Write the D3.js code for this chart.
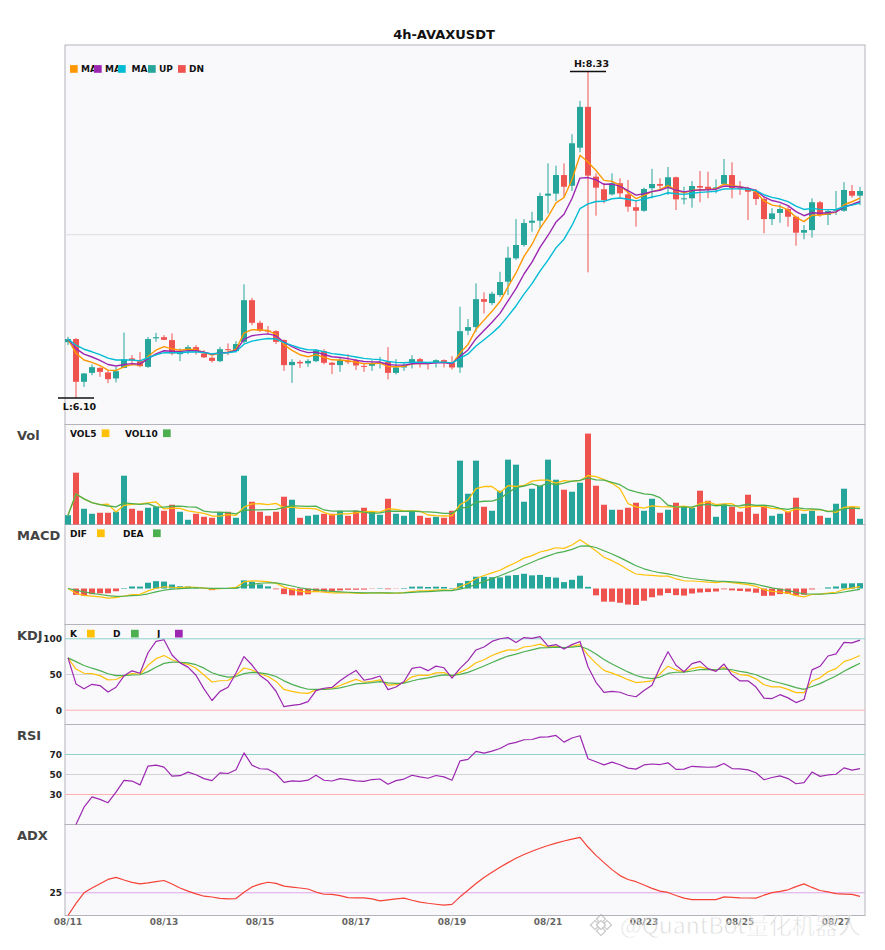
<!DOCTYPE html>
<html>
<head>
<meta charset="utf-8">
<script src="https://cdn.jsdelivr.net/npm/d3@7"></script>
<style>
    body { margin: 0; background: #fff; }
    svg text { font-family: "DejaVu Sans", sans-serif; }
</style>
</head>
<body>
<div class="container"></div>
<script>
// 4h candles, 08/11 00:00 onwards
var opens = [6.481, 6.502, 6.210, 6.271, 6.305, 6.274, 6.233, 6.305, 6.370, 6.351,
    6.312, 6.507, 6.515, 6.495, 6.399, 6.426, 6.447, 6.404, 6.374, 6.351,
    6.433, 6.420, 6.483, 6.768, 6.613, 6.560, 6.556, 6.495, 6.324, 6.346,
    6.336, 6.351, 6.420, 6.340, 6.324, 6.351, 6.358, 6.319, 6.319, 6.338,
    6.346, 6.271, 6.308, 6.340, 6.365, 6.340, 6.340, 6.358, 6.340, 6.308,
    6.559, 6.584, 6.775, 6.748, 6.803, 6.894, 7.054, 7.145, 7.297, 7.311,
    7.482, 7.496, 7.623, 7.550, 7.810, 8.089, 7.612, 7.526, 7.491, 7.567,
    7.491, 7.403, 7.379, 7.533, 7.562, 7.537, 7.608, 7.457, 7.464, 7.548,
    7.543, 7.528, 7.562, 7.623, 7.537, 7.533, 7.509, 7.459, 7.322, 7.364,
    7.391, 7.338, 7.229, 7.247, 7.437, 7.350, 7.379, 7.379, 7.514, 7.482];
var highs = [6.517, 6.509, 6.270, 6.329, 6.310, 6.290, 6.312, 6.547, 6.392, 6.413,
    6.517, 6.545, 6.529, 6.541, 6.438, 6.461, 6.461, 6.426, 6.385, 6.449,
    6.472, 6.488, 6.876, 6.784, 6.627, 6.591, 6.563, 6.500, 6.365, 6.358,
    6.365, 6.433, 6.433, 6.346, 6.374, 6.399, 6.367, 6.336, 6.358, 6.381,
    6.447, 6.365, 6.336, 6.392, 6.374, 6.342, 6.363, 6.363, 6.385, 6.723,
    6.639, 6.883, 6.821, 6.825, 6.962, 7.133, 7.322, 7.322, 7.372, 7.502,
    7.703, 7.687, 7.703, 7.902, 8.130, 8.330, 7.635, 7.567, 7.635, 7.601,
    7.589, 7.452, 7.537, 7.665, 7.601, 7.678, 7.612, 7.543, 7.582, 7.651,
    7.646, 7.594, 7.733, 7.710, 7.582, 7.543, 7.528, 7.475, 7.396, 7.423,
    7.407, 7.345, 7.281, 7.464, 7.446, 7.384, 7.514, 7.574, 7.555, 7.543];
var lows = [6.461, 6.100, 6.175, 6.255, 6.244, 6.201, 6.206, 6.303, 6.324, 6.310,
    6.305, 6.483, 6.495, 6.392, 6.351, 6.399, 6.397, 6.372, 6.342, 6.344,
    6.392, 6.411, 6.472, 6.597, 6.550, 6.536, 6.468, 6.285, 6.203, 6.305,
    6.312, 6.344, 6.329, 6.262, 6.278, 6.331, 6.290, 6.278, 6.285, 6.301,
    6.226, 6.260, 6.285, 6.301, 6.308, 6.294, 6.308, 6.308, 6.294, 6.271,
    6.529, 6.552, 6.677, 6.734, 6.791, 6.803, 7.042, 7.133, 7.236, 7.259,
    7.361, 7.446, 7.475, 7.514, 7.779, 6.958, 7.345, 7.430, 7.482, 7.468,
    7.372, 7.270, 7.372, 7.464, 7.514, 7.487, 7.384, 7.423, 7.400, 7.437,
    7.464, 7.498, 7.555, 7.464, 7.487, 7.316, 7.418, 7.225, 7.281, 7.297,
    7.270, 7.140, 7.184, 7.195, 7.338, 7.281, 7.350, 7.372, 7.468, 7.418];
var closes = [6.502, 6.210, 6.267, 6.310, 6.278, 6.228, 6.283, 6.363, 6.356, 6.317,
    6.502, 6.515, 6.497, 6.404, 6.408, 6.447, 6.420, 6.377, 6.353, 6.433,
    6.426, 6.468, 6.768, 6.613, 6.559, 6.553, 6.483, 6.324, 6.346, 6.336,
    6.353, 6.426, 6.340, 6.326, 6.358, 6.344, 6.322, 6.315, 6.336, 6.342,
    6.271, 6.308, 6.324, 6.365, 6.346, 6.331, 6.358, 6.344, 6.308, 6.556,
    6.584, 6.775, 6.757, 6.812, 6.892, 7.058, 7.145, 7.295, 7.311, 7.480,
    7.496, 7.623, 7.543, 7.840, 8.089, 7.619, 7.537, 7.452, 7.567, 7.498,
    7.407, 7.379, 7.528, 7.562, 7.550, 7.608, 7.457, 7.464, 7.548, 7.537,
    7.528, 7.539, 7.623, 7.533, 7.528, 7.509, 7.459, 7.322, 7.361, 7.391,
    7.338, 7.229, 7.247, 7.437, 7.350, 7.377, 7.391, 7.521, 7.482, 7.514];
// volume, thousands
var volumes = [93, 517, 157, 107, 117, 117, 127, 487, 157, 137,
    167, 177, 137, 197, 127, 47, 107, 77, 67, 117,
    127, 67, 487, 227, 127, 87, 127, 277, 247, 67,
    87, 97, 107, 107, 137, 87, 137, 167, 127, 97,
    257, 107, 87, 127, 87, 67, 77, 67, 137, 637,
    307, 637, 177, 137, 337, 647, 597, 227, 357, 387,
    647, 447, 347, 327, 417, 907, 387, 197, 147, 147,
    167, 217, 137, 257, 117, 147, 217, 177, 167, 337,
    237, 77, 207, 177, 127, 297, 107, 187, 87, 107,
    127, 267, 107, 137, 87, 67, 207, 357, 177, 57];
var tickLabels = ['08/11', '08/13', '08/15', '08/17', '08/19', '08/21', '08/23', '08/25', '08/27'];
var CANDLES_PER_TICK = 12;

var maSpans = [5, 8, 13];
var maColors = ['#ff9800', '#9c27b0', '#00bcd4'];
var MACD_FAST = 8, MACD_SLOW = 17, MACD_SIGNAL = 5;

var UP = '#26a69a', DN = '#ef5350';
var YELLOW = '#ffc107', GREEN = '#4caf50', PURPLE = '#9c27b0';

// ---- indicators, worked out from the candles above ----
function rollingMean(arr, n) {
    return arr.map(function (d, i) {
        return d3.mean(arr.slice(Math.max(0, i - n + 1), i + 1));
    });
}
function ewm(arr, alpha, adjust) {
    var out = [], num = 0, den = 0, prev = null;
    arr.forEach(function (v) {
        if (v == null) { out.push(null); return; }
        if (adjust) {
            num = num * (1 - alpha) + v;
            den = den * (1 - alpha) + 1;
            out.push(num / den);
        } else {
            prev = prev == null ? v : prev + alpha * (v - prev);
            out.push(prev);
        }
    });
    return out;
}
function ema(arr, span) { return ewm(arr, 2 / (span + 1), false); }

var maLines = maSpans.map(function (s) { return ema(closes, s); });
var vol5 = rollingMean(volumes, 5), vol10 = rollingMean(volumes, 10);

var emaFast = ema(closes, MACD_FAST), emaSlow = ema(closes, MACD_SLOW);
var dif = emaFast.map(function (d, i) { return d - emaSlow[i]; });
var dea = ema(dif, MACD_SIGNAL);
var hist = dif.map(function (d, i) { return 2 * (d - dea[i]); });

var rsv = closes.map(function (c, i) {
    var lo = d3.min(lows.slice(Math.max(0, i - 8), i + 1));
    var hi = d3.max(highs.slice(Math.max(0, i - 8), i + 1));
    return hi === lo ? 50 : (c - lo) / (hi - lo) * 100;
});
var kLine = ewm(rsv, 1 / 3, false);
var dLine = ewm(kLine, 1 / 3, false);
var jLine = kLine.map(function (k, i) { return 3 * k - 2 * dLine[i]; });

var gains = closes.map(function (c, i) { return i ? Math.max(c - closes[i - 1], 0) : null; });
var losses = closes.map(function (c, i) { return i ? Math.max(closes[i - 1] - c, 0) : null; });
var avgG = ewm(gains, 1 / 14, true), avgL = ewm(losses, 1 / 14, true);
var rsi = avgG.map(function (g, i) {
    if (g == null) return null;
    return g + avgL[i] === 0 ? 50 : 100 * g / (g + avgL[i]);
});

var tr = [], pdm = [], mdm = [];
closes.forEach(function (c, i) {
    if (i === 0) { tr.push(highs[0] - lows[0]); pdm.push(0); mdm.push(0); return; }
    var pc = closes[i - 1];
    tr.push(Math.max(highs[i] - lows[i], Math.abs(highs[i] - pc), Math.abs(lows[i] - pc)));
    var up = highs[i] - highs[i - 1], down = lows[i - 1] - lows[i];
    pdm.push(up > down && up > 0 ? up : 0);
    mdm.push(down > up && down > 0 ? down : 0);
});
var atr = ema(tr, 14), pdmS = ema(pdm, 14), mdmS = ema(mdm, 14);
var dx = atr.map(function (a, i) {
    var p = 100 * pdmS[i] / a, m = 100 * mdmS[i] / a;
    return p + m === 0 ? 0 : 100 * Math.abs(p - m) / (p + m);
});
var adx = ema(dx, 14);

// ---- layout ----
var W = 885, H = 950, LEFT = 65, RIGHT = 865;
var P = {
    main: [45, 424.5], vol: [424.5, 524.5], macd: [524.5, 624.5],
    kdj: [624.5, 724.5], rsi: [724.5, 824.5], adx: [824.5, 915.5]
};

var svg = d3.select('.container').append('svg')
    .attr('width', W).attr('height', H);

var n = closes.length;
var x = d3.scaleBand().domain(d3.range(n)).range([LEFT - 1, RIGHT - 1])
    .paddingInner(0.25).paddingOuter(0.125);
function cx(i) { return x(i) + x.bandwidth() / 2; }

svg.append('text')
    .attr('x', 444).attr('y', 39)
    .attr('text-anchor', 'middle')
    .style('font-size', '13px').style('font-weight', 'bold').attr('fill', '#111')
    .text('4h-AVAXUSDT');

Object.keys(P).forEach(function (k) {
    svg.append('rect')
        .attr('x', LEFT).attr('y', P[k][0])
        .attr('width', RIGHT - LEFT).attr('height', P[k][1] - P[k][0])
        .attr('fill', '#f9f9fc').attr('stroke', '#b4b4bc').attr('stroke-width', 1);
});

function panelLabel(name, top) {
    svg.append('text').attr('x', 17).attr('y', top + 15)
        .style('font-size', '13px').style('font-weight', 'bold').attr('fill', '#444')
        .text(name);
}
function legend(items, y) {
    // items: [text, color, textX, squareX, clipWidth]
    items.forEach(function (it, i) {
        var id = 'lg' + Math.round(y) + '_' + i;
        svg.append('clipPath').attr('id', id).append('rect')
            .attr('x', it[2]).attr('y', y - 12).attr('width', it[4]).attr('height', 16);
        svg.append('text').attr('x', it[2]).attr('y', y + 3.3)
            .attr('clip-path', 'url(#' + id + ')')
            .style('font-size', '9px').style('font-weight', 'bold').attr('fill', '#111')
            .text(it[0]);
        svg.append('rect').attr('x', it[3]).attr('y', y - 3.9)
            .attr('width', 7.7).attr('height', 7.7).attr('fill', it[1]);
    });
}
function lineGen(scale) {
    return d3.line()
        .defined(function (d) { return d != null; })
        .x(function (d, i) { return cx(i); })
        .y(function (d) { return scale(d); });
}
function drawLine(data, scale, color, width) {
    svg.append('path').datum(data)
        .attr('fill', 'none').attr('stroke', color)
        .attr('stroke-width', width || 1.2).attr('stroke-linejoin', 'round')
        .attr('d', lineGen(scale));
}
function refLines(levels, colors, scale, labels) {
    levels.forEach(function (v, i) {
        svg.append('line')
            .attr('x1', LEFT).attr('x2', RIGHT)
            .attr('y1', scale(v)).attr('y2', scale(v))
            .attr('stroke', colors[i]).attr('stroke-width', 1);
        if (labels) {
            svg.append('text').attr('x', 62).attr('y', scale(v) + 3.3)
                .attr('text-anchor', 'end')
                .style('font-size', '9px').style('font-weight', 'bold').attr('fill', '#222')
                .text(v);
        }
    });
}

// ---- main candles ----
var lo = d3.min(lows), hi = d3.max(highs), pad = (hi - lo) * 0.0815;
var y = d3.scaleLinear().domain([lo - pad, hi + pad]).range([P.main[1], P.main[0]]);

svg.append('line')
    .attr('x1', LEFT).attr('x2', RIGHT)
    .attr('y1', (P.main[0] + P.main[1]) / 2).attr('y2', (P.main[0] + P.main[1]) / 2)
    .attr('stroke', '#dcdce2');

var candle = svg.append('g').selectAll('g')
    .data(closes)
    .enter()
    .append('g');
candle.append('line')
    .attr('x1', function (d, i) { return cx(i); })
    .attr('x2', function (d, i) { return cx(i); })
    .attr('y1', function (d, i) { return y(highs[i]); })
    .attr('y2', function (d, i) { return y(lows[i]); })
    .attr('stroke', function (d, i) { return d >= opens[i] ? UP : DN; })
    .attr('stroke-width', 1);
candle.append('rect')
    .attr('x', function (d, i) { return x(i); })
    .attr('width', x.bandwidth())
    .attr('y', function (d, i) { return y(Math.max(d, opens[i])); })
    .attr('height', function (d, i) { return Math.max(1, Math.abs(y(d) - y(opens[i]))); })
    .attr('fill', function (d, i) { return d >= opens[i] ? UP : DN; });

maLines.forEach(function (l, i) { drawLine(l, y, maColors[i], 1.4); });

var iHi = highs.indexOf(hi), iLo = lows.indexOf(lo);
[[iHi, hi, 'H:', -4.5], [iLo, lo, 'L:', 12.5]].forEach(function (m) {
    svg.append('line')
        .attr('x1', cx(m[0]) - 18).attr('x2', cx(m[0]) + 18)
        .attr('y1', y(m[1])).attr('y2', y(m[1]))
        .attr('stroke', '#111').attr('stroke-width', 1.5);
    svg.append('text')
        .attr('x', cx(m[0]) + 3.5).attr('y', y(m[1]) + m[3])
        .attr('text-anchor', 'middle')
        .style('font-size', '9.5px').style('font-weight', 'bold').attr('fill', '#111')
        .text(m[2] + m[1].toFixed(2));
});

legend([['MA' + maSpans[0], maColors[0], 81, 70, 13], ['MA' + maSpans[1], maColors[1], 105, 94, 13],
    ['MA' + maSpans[2], maColors[2], 131.5, 118, 16.5], ['UP', UP, 159, 148, 19], ['DN', DN, 189, 178, 30]], 69);

// ---- volume ----
var yVol = d3.scaleLinear().domain([0, d3.max(volumes) * 1.1]).range([P.vol[1], P.vol[0]]);
svg.append('g').selectAll('rect')
    .data(volumes)
    .enter()
    .append('rect')
    .attr('x', function (d, i) { return x(i); })
    .attr('width', x.bandwidth())
    .attr('y', function (d) { return yVol(d); })
    .attr('height', function (d) { return yVol(0) - yVol(d); })
    .attr('fill', function (d, i) { return closes[i] >= opens[i] ? UP : DN; });
drawLine(vol5, yVol, YELLOW, 1.3);
drawLine(vol10, yVol, GREEN, 1.3);
panelLabel('Vol', P.vol[0]);
legend([['VOL5', YELLOW, 70, 101.7, 40], ['VOL10', GREEN, 125, 163, 40]], 433.3);

// ---- MACD ----
var mExt = d3.extent(dif.concat(dea, hist)), mr = mExt[1] - mExt[0];
var yMacd = d3.scaleLinear().domain([mExt[0] - mr * 0.3, mExt[1] + mr * 0.235])
    .range([P.macd[1], P.macd[0]]);
svg.append('g').selectAll('rect')
    .data(hist)
    .enter()
    .append('rect')
    .attr('x', function (d, i) { return x(i); })
    .attr('width', x.bandwidth())
    .attr('y', function (d) { return yMacd(Math.max(0, d)); })
    .attr('height', function (d) { return Math.abs(yMacd(d) - yMacd(0)); })
    .attr('fill', function (d) { return d >= 0 ? UP : DN; });
drawLine(dif, yMacd, YELLOW, 1.2);
drawLine(dea, yMacd, GREEN, 1.2);
panelLabel('MACD', P.macd[0]);
legend([['DIF', YELLOW, 70, 97, 25], ['DEA', GREEN, 123, 153, 28]], 533.3);

// ---- KDJ ----
var yKdj = d3.scaleLinear().domain([-20, 120]).range([P.kdj[1], P.kdj[0]]);
refLines([100, 50, 0], ['#8fd2c9', '#d2d2d6', '#ffb0b0'], yKdj, true);
drawLine(kLine, yKdj, YELLOW, 1.2);
drawLine(dLine, yKdj, GREEN, 1.2);
drawLine(jLine, yKdj, PURPLE, 1.2);
panelLabel('KDJ', P.kdj[0]);
legend([['K', YELLOW, 70, 87, 15], ['D', GREEN, 113, 131, 16], ['J', PURPLE, 157, 175, 16]], 633.7);

// ---- RSI ----
var yRsi = d3.scaleLinear().domain([0, 100]).range([P.rsi[1], P.rsi[0]]);
refLines([70, 50, 30], ['#8fd2c9', '#d2d2d6', '#ffb0b0'], yRsi, true);
drawLine(rsi, yRsi, PURPLE, 1.2);
panelLabel('RSI', P.rsi[0]);

// ---- ADX ----
var yAdx = d3.scaleLinear().domain([0, 100]).range([P.adx[1], P.adx[0]]);
refLines([25], ['#e0a6ea'], yAdx, true);
drawLine(adx, yAdx, '#f44336', 1.2);
panelLabel('ADX', P.adx[0]);

// ---- x axis ----
svg.append('g').selectAll('text')
    .data(tickLabels)
    .enter()
    .append('text')
    .attr('x', function (d, i) { return cx(i * CANDLES_PER_TICK); })
    .attr('y', 925)
    .attr('text-anchor', 'middle')
    .style('font-size', '9px').style('font-weight', 'bold').attr('fill', '#666')
    .text(function (d) { return d; });

// ---- watermark ----
var wm = svg.append('g').attr('opacity', 0.55);
[[0, -6], [-6, 0], [6, 0], [0, 6], [0, 0]].forEach(function (p) {
    wm.append('rect')
        .attr('x', -3.2).attr('y', -3.2).attr('width', 6.4).attr('height', 6.4)
        .attr('transform', 'translate(' + (601 + p[0]) + ',' + (925 + p[1]) + ') rotate(45)')
        .attr('fill', '#fff').attr('stroke', '#9a9a9a').attr('stroke-width', 1.2);
});
wm.append('text')
    .attr('x', 620).attr('y', 934)
    .style('font-family', '"Noto Sans CJK SC", "DejaVu Sans", sans-serif')
    .style('font-size', '23px')
    .attr('fill', '#b8b8b8').attr('stroke', '#fff').attr('stroke-width', 0.8)
    .text('@QuantBot量化机器人');
</script>
</body>
</html>
